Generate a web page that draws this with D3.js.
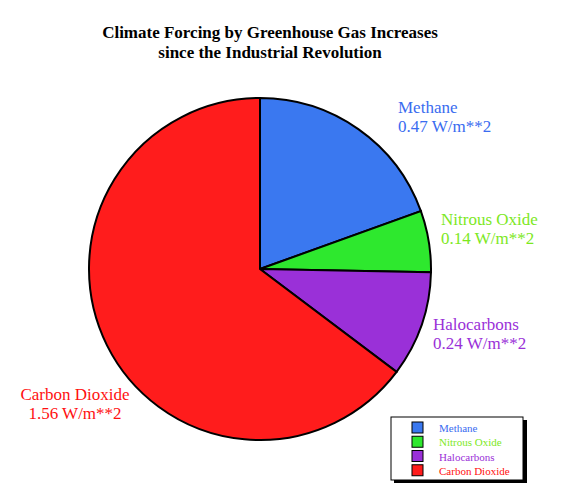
<!DOCTYPE html>
<html><head><meta charset="utf-8">
<script src="https://cdn.jsdelivr.net/npm/d3@7"></script>
<style>body{margin:0;background:#fff}text{font-family:"Liberation Serif","DejaVu Serif",serif}</style>
</head><body><svg width="563" height="502"></svg>
<script>
const gases = ["Methane", "Nitrous Oxide", "Halocarbons", "Carbon Dioxide"];
const forcing = [0.47, 0.14, 0.24, 1.56];
const fills = ["#3a78f0", "#2ee82e", "#9a30d8", "#ff1c1c"];
const labelColors = ["#3a6cf0", "#7de81e", "#9a30d8", "#ff1010"];
const legendNames = ["Methane", "Nitrous Oxide", "Halocarbons", "Carbon Dioxide"];

const svg = d3.select("svg");
const cx = 260, cy = 269, r = 171;

svg.append("text").attr("x", 270).attr("y", 38).attr("text-anchor", "middle")
  .attr("font-weight", "bold").attr("font-size", 17).text("Climate Forcing by Greenhouse Gas Increases");
svg.append("text").attr("x", 270).attr("y", 58).attr("text-anchor", "middle")
  .attr("font-weight", "bold").attr("font-size", 17).text("since the Industrial Revolution");

const pie = d3.pie().sort(null)(forcing);
const arc = d3.arc().innerRadius(0).outerRadius(r);
const g = svg.append("g").attr("transform", `translate(${cx},${cy})`);
g.selectAll("path").data(pie).join("path")
  .attr("d", arc).attr("fill", (d, i) => fills[i])
  .attr("stroke", "#000").attr("stroke-width", 2);

// slice labels
const labelPos = [[398, 113], [441, 225], [433, 330], [5, 400]];
forcing.forEach((v, i) => {
  const t = svg.append("text").attr("x", labelPos[i][0]).attr("y", labelPos[i][1])
    .attr("font-size", 17).attr("fill", labelColors[i]);
  t.append("tspan").attr("x", labelPos[i][0]).text(gases[i]);
  t.append("tspan").attr("x", labelPos[i][0]).attr("dy", 19).text(v.toFixed(2) + " W/m**2");
});
svg.selectAll("text").filter(function(){return d3.select(this).text().startsWith("Carbon Dioxide1")})
  .attr("text-anchor", "middle").selectAll("tspan").attr("x", 75);

// legend
const lg = svg.append("g");
lg.append("rect").attr("x", 394).attr("y", 420).attr("width", 133).attr("height", 63).attr("fill", "#000");
lg.append("rect").attr("x", 391).attr("y", 417).attr("width", 132).attr("height", 63)
  .attr("fill", "#fff").attr("stroke", "#000");
const ly = d3.scaleBand().domain(legendNames).range([421, 478]);
legendNames.forEach((n, i) => {
  lg.append("rect").attr("x", 412).attr("y", ly(n) + 1).attr("width", 11).attr("height", 11)
    .attr("fill", fills[i]).attr("stroke", "#000");
  lg.append("text").attr("x", 439).attr("y", ly(n) + 11).attr("font-size", 11)
    .attr("fill", labelColors[i]).text(n);
});
</script></body></html>
